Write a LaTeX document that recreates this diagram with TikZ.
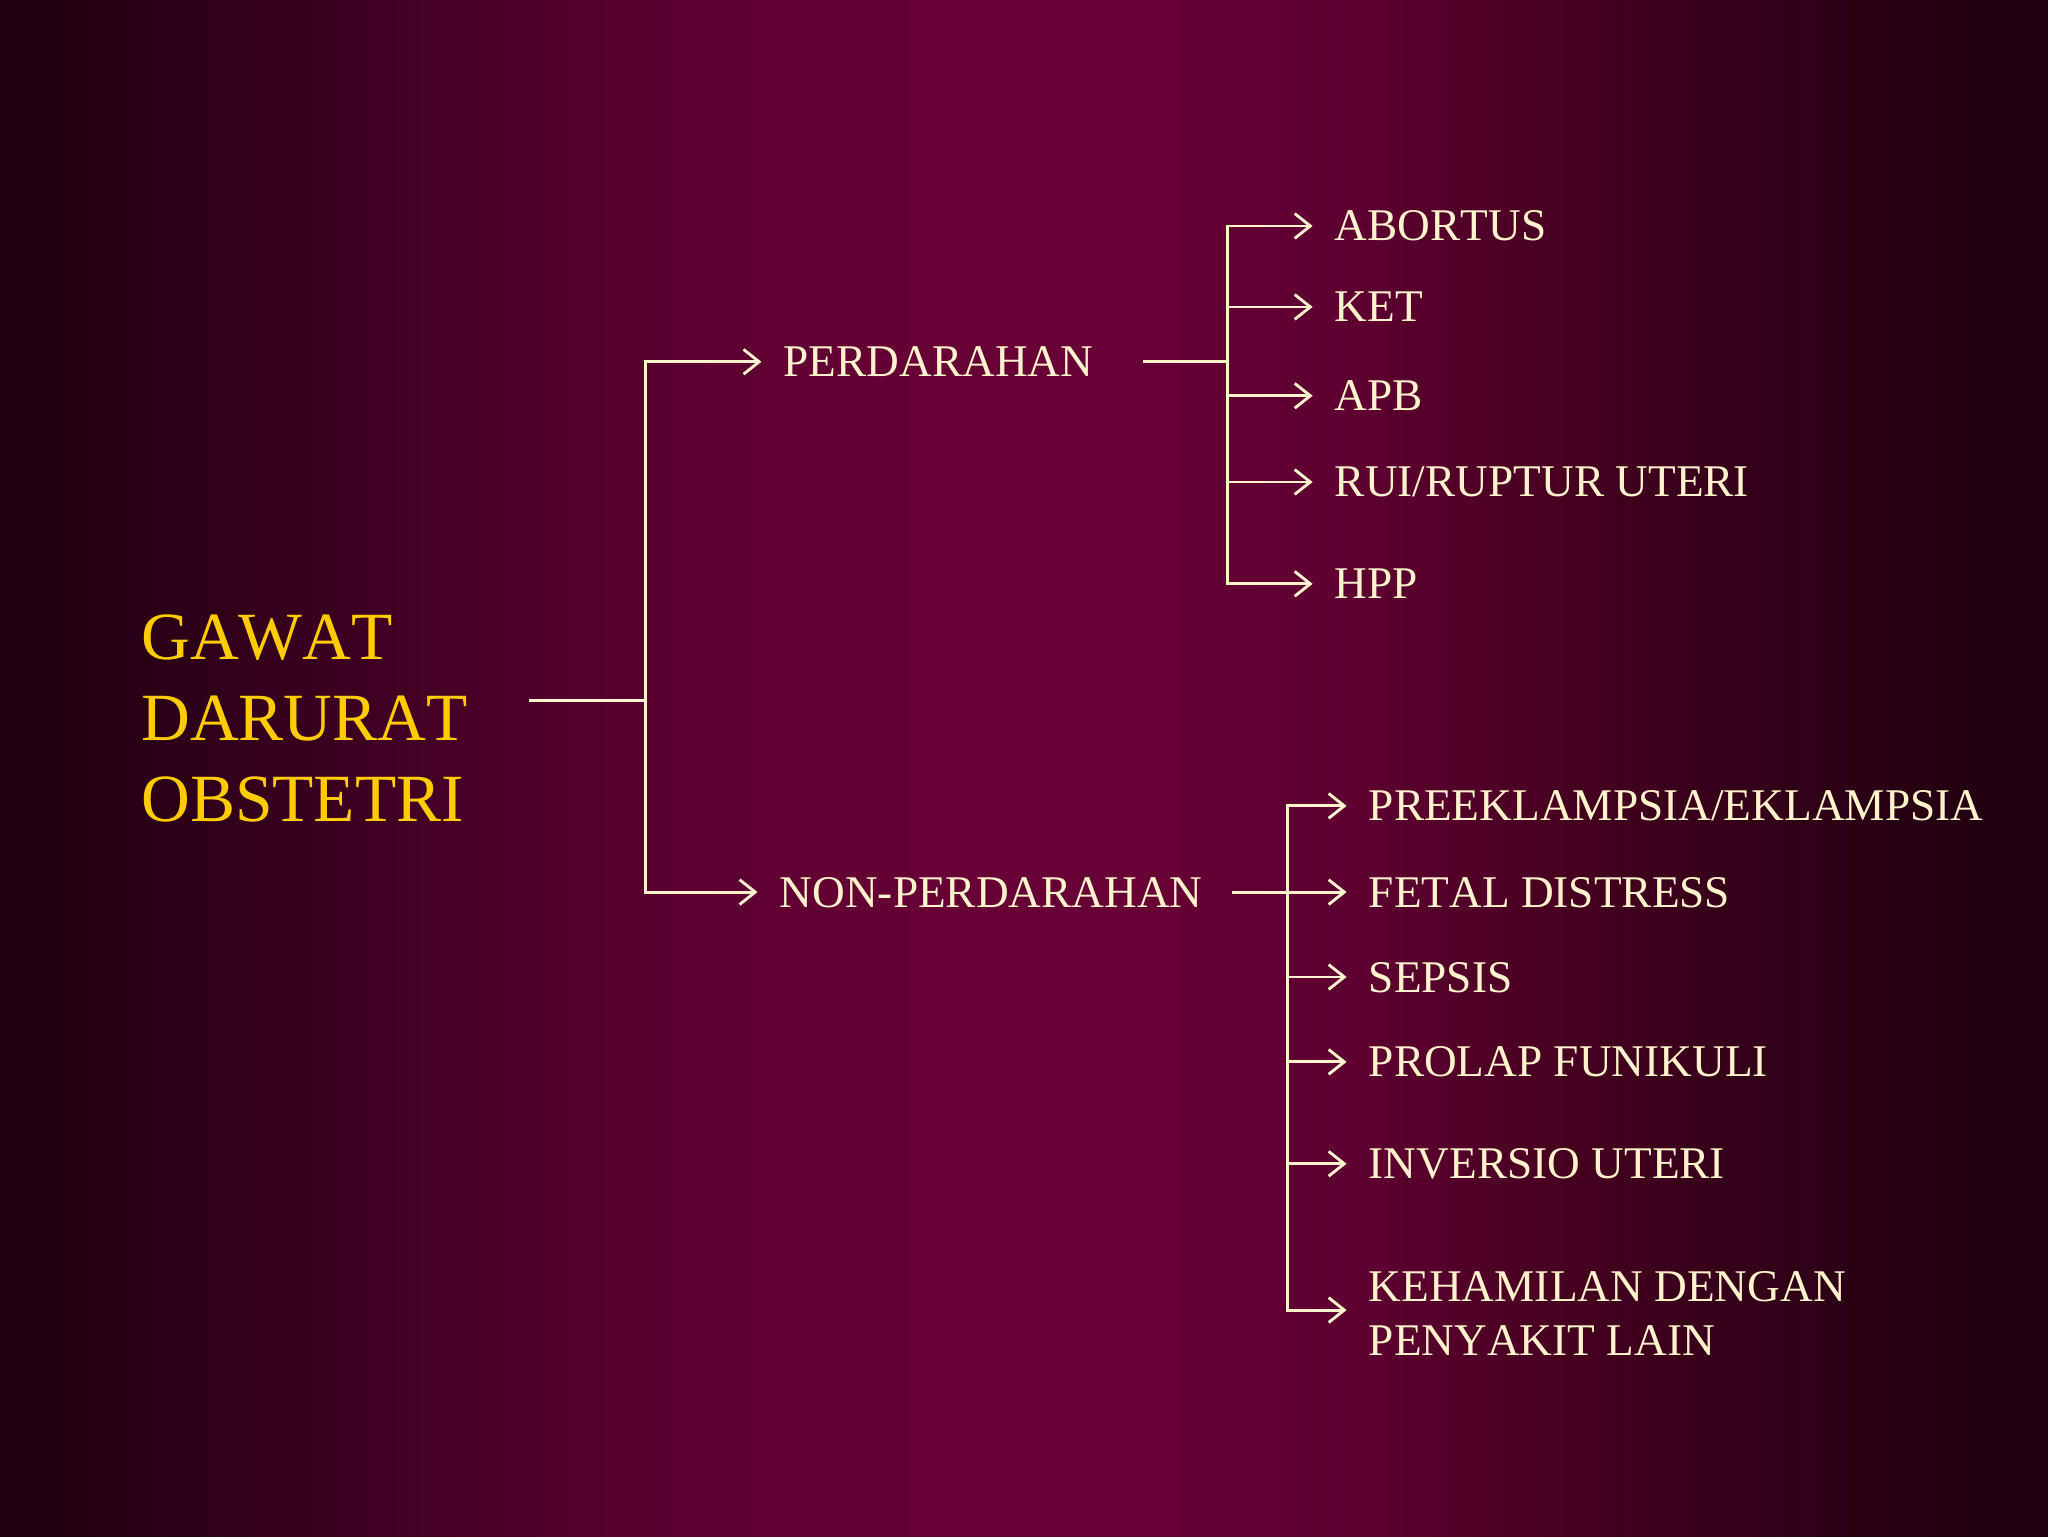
\documentclass[tikz,border=0pt]{standalone}
\usepackage{fontspec}
\setmainfont{Liberation Serif}[Kerning=Off]
\usetikzlibrary{arrows.meta}
\definecolor{cream}{HTML}{FFF2CC}
\definecolor{gold}{HTML}{FFCC00}
\definecolor{bgA}{HTML}{1E0010}
\definecolor{bgB}{HTML}{280014}
\definecolor{bgC}{HTML}{3A0020}
\definecolor{bgD}{HTML}{4E002A}
\definecolor{bgE}{HTML}{5E0032}
\definecolor{bgF}{HTML}{660035}
\definecolor{bgG}{HTML}{5C0030}
\definecolor{bgH}{HTML}{46001F}
\definecolor{bgI}{HTML}{38001A}
\pgfdeclarehorizontalshading{slidebg}{100bp}{color(0bp)=(bgA); color(25bp)=(bgA); color(28bp)=(bgB); color(33bp)=(bgC); color(37.75bp)=(bgD); color(42.5bp)=(bgE); color(47.5bp)=(bgF); color(53.5bp)=(bgF); color(58.5bp)=(bgG); color(63.25bp)=(bgH); color(66.5bp)=(bgI); color(71.25bp)=(bgB); color(75bp)=(bgA); color(100bp)=(bgA)}
\tikzset{
  ln/.style={draw=cream, line width=2.2bp},
  arr/.style={ln, -{Straight Barb[length=12bp,width=19bp,line width=2.2bp]}},
  item/.style={anchor=west, text=cream, inner sep=0pt, outer xsep=17bp,
    font=\fontsize{34.7bp}{41.6bp}\selectfont, text height=23bp, text depth=0pt, align=left},
  rootstyle/.style={anchor=south west, text=gold, inner sep=0pt,
    font=\fontsize{51.7bp}{62bp}\selectfont, text height=34.2bp, text depth=0pt, align=left}
}
\begin{document}
\begin{tikzpicture}[x=1bp, y=-1bp]
\useasboundingbox (0,0) rectangle (1568,1176);
\shade[shading=slidebg] (0,0) rectangle (1568,1176);

% the multi-line box is set to the last line's height, so its bottom is the last baseline
\node[rootstyle] (root) at (108,629) {GAWAT\\DARURAT\\OBSTETRI};

\coordinate (j0) at (405,536);
\coordinate (j1) at (494,536);
\coordinate (j2) at (940,277);
\coordinate (j3) at (986,683);

\node[item] (perd) at (583,277) {PERDARAHAN};
\node[item] (nonp) at (580,683) {NON-PERDARAHAN};

\node[item] (abortus) at (1005,173) {ABORTUS};
\node[item] (ket) at (1005,235) {KET};
\node[item] (apb) at (1005,303) {APB};
\node[item] (rui) at (1005,369) {RUI/RUPTUR UTERI};
\node[item] (hpp) at (1005,447) {HPP};

\node[item] (pre) at (1031,617) {PREEKLAMPSIA/EKLAMPSIA};
\node[item] (fetal) at (1031,683) {FETAL DISTRESS};
\node[item] (sepsis) at (1031,748) {SEPSIS};
\node[item] (prolap) at (1031,813) {PROLAP FUNIKULI};
\node[item] (inv) at (1031,891) {INVERSIO UTERI};
\node[item] (keh) at (1031,1026.5) {KEHAMILAN DENGAN\\PENYAKIT LAIN};

\draw[ln] (j0) -- (j1);
\draw[arr] (j1) |- (perd.west);
\draw[arr] (j1) |- (nonp.west);

\draw[ln] ([xshift=21bp]perd.east) -- (j2);
\foreach \n in {abortus,ket,apb,rui,hpp} \draw[arr] (j2) |- (\n.west);

\draw[ln] ([xshift=5bp]nonp.east) -- (j3);
\foreach \n in {pre,fetal,sepsis,prolap,inv} \draw[arr] (j3) |- (\n.west);
\draw[arr] (j3) |- ([yshift=23.5bp]keh.west);
\end{tikzpicture}
\end{document}
